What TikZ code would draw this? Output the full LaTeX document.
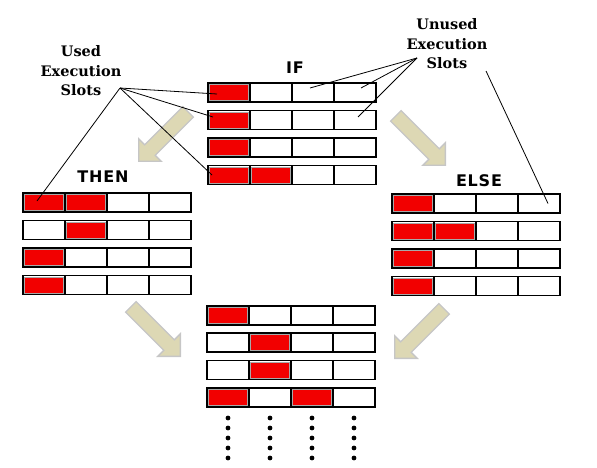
\documentclass[tikz,border=0pt]{standalone}
\usepackage{fontspec}
\usepackage{tikz}
\usetikzlibrary{shapes.arrows}
\newfontfamily\headfont[LetterSpace=5]{DejaVu Sans}
\newfontfamily\callfont{DejaVu Serif}
\definecolor{slotred}{HTML}{F20000}
\definecolor{slotedge}{HTML}{A8A8A8}
\definecolor{flowfill}{HTML}{DDD8B4}
\definecolor{flowedge}{HTML}{C6C6C6}
\newcommand{\slotrow}[4]{%
  \foreach \s [count=\c] in {#4}
    \node[slot\s] (#1-\c) at ({#2+(\c-1)*42},#3) {};}

\begin{document}
\begin{tikzpicture}[x=1pt, y=-1pt,
  slot0/.style={draw, line width=1.1pt, minimum width=42pt, minimum height=19pt, inner sep=0pt, outer sep=0pt, anchor=north west},
  slot1/.style={slot0, path picture={\fill[slotred, draw=slotedge, line width=0.6pt] ([shift={(1.4pt,1.4pt)}]path picture bounding box.south west) rectangle ([shift={(-1.4pt,-1.4pt)}]path picture bounding box.north east);}},
  blocklbl/.style={font=\headfont\bfseries\fontsize{16}{16}\selectfont, inner sep=0pt},
  calllbl/.style={font=\callfont\bfseries\fontsize{14.5}{19.5}\selectfont, align=center, inner sep=0pt},
  flow/.style={single arrow, draw=flowedge, fill=flowfill, line width=1.3pt, single arrow head extend=8.5pt, single arrow tip angle=90, minimum height=70pt, minimum width=0pt, inner xsep=0pt, inner ysep=6.8pt, anchor=tip},
  leader/.style={draw=black, line width=0.8pt}]
\useasboundingbox (0,0) rectangle (597,468);

\node[flow, rotate=225] (arrthen) at (138,162) {};
\node[flow, rotate=-45] (arrelse) at (446,166) {};
\node[flow, rotate=-45] (arrjoinl) at (181,357) {};
\node[flow, rotate=225] (arrjoinr) at (394,359) {};

\slotrow{if1}{208}{83}{1,0,0,0}
\slotrow{if2}{208}{110.5}{1,0,0,0}
\slotrow{if3}{208}{138}{1,0,0,0}
\slotrow{if4}{208}{165.5}{1,1,0,0}

\slotrow{then1}{23}{193}{1,1,0,0}
\slotrow{then2}{23}{220.5}{0,1,0,0}
\slotrow{then3}{23}{248}{1,0,0,0}
\slotrow{then4}{23}{275.5}{1,0,0,0}

\slotrow{else1}{392}{194}{1,0,0,0}
\slotrow{else2}{392}{221.5}{1,1,0,0}
\slotrow{else3}{392}{249}{1,0,0,0}
\slotrow{else4}{392}{276.5}{1,0,0,0}

\slotrow{join1}{207}{306}{1,0,0,0}
\slotrow{join2}{207}{333}{0,1,0,0}
\slotrow{join3}{207}{360.5}{0,1,0,0}
\slotrow{join4}{207}{388}{1,0,1,0}

\node[blocklbl] (iflbl) at (295,68) {IF};
\node[blocklbl] (thenlbl) at (103,177) {THEN};
\node[blocklbl] (elselbl) at (479,181) {ELSE};

\node[calllbl] (usedlbl) at (81,71) {Used\\Execution\\Slots};
\node[calllbl] (unusedlbl) at (447,44) {Unused\\Execution\\Slots};
\coordinate (usedtip) at (120,88);
\coordinate (unusedtip) at (417,58);
\coordinate (unusedend) at (486,71);

\draw[leader] (usedtip) -- ([xshift=9pt,yshift=-1.5pt]if1-1.west);
\draw[leader] (usedtip) -- ([xshift=5pt,yshift=3pt]if2-1.west);
\draw[leader] (usedtip) -- ([xshift=4pt]if4-1.west);
\draw[leader] (usedtip) -- ([xshift=14pt,yshift=1.5pt]then1-1.west);
\draw[leader] (unusedtip) -- ([xshift=-3pt,yshift=4.5pt]if1-3.center);
\draw[leader] (unusedtip) -- ([xshift=6pt,yshift=4.5pt]if1-4.center);
\draw[leader] (unusedtip) -- ([xshift=3pt,yshift=3pt]if2-4.center);
\draw[leader] (unusedend) -- ([xshift=9pt]else1-4.center);

\foreach \c in {1,...,4}
  \foreach \k in {0,...,4}
    \fill ([yshift={-11pt-10pt*\k}]join4-\c.south) circle (2.4pt);
\end{tikzpicture}
\end{document}
